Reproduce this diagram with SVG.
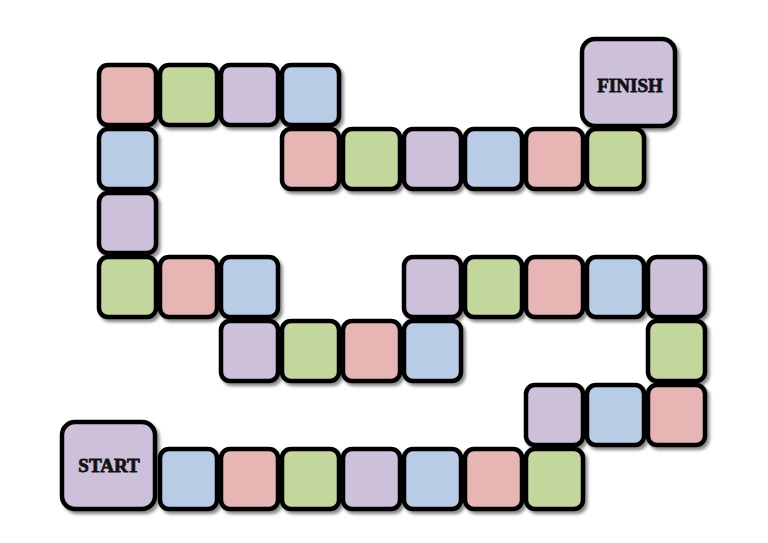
<svg xmlns="http://www.w3.org/2000/svg" width="768" height="543" viewBox="0 0 768 543">
<defs>
<filter id="sh" x="-20%" y="-20%" width="140%" height="140%">
<feDropShadow dx="2.5" dy="3" stdDeviation="1.5" flood-color="#000" flood-opacity="0.45"/>
</filter>
</defs>
<style>
rect{stroke:#000;stroke-width:4.5;filter:url(#sh)}
.p{fill:#E6B5B4}
.g{fill:#C3D69B}
.v{fill:#CCC0DA}
.b{fill:#B8CDE5}
text{font-family:"Liberation Serif","Times New Roman",serif;font-weight:bold;font-size:19px;fill:#111;stroke:#111;stroke-width:0.8;text-anchor:middle}
</style>
<rect width="768" height="543" fill="#fff" style="stroke:none;filter:none"/>
<g id="finish"><rect x="582" y="39" width="93" height="87" rx="13" class="v"/><text x="630" y="92">FINISH</text></g>
<g id="row0">
<rect id="s01" x="99" y="65" width="57" height="60" rx="9" class="p"/>
<rect id="s02" x="160" y="65" width="57" height="60" rx="9" class="g"/>
<rect id="s03" x="221" y="65" width="57" height="60" rx="9" class="v"/>
<rect id="s04" x="282" y="65" width="57" height="60" rx="9" class="b"/>
</g>
<g id="row1">
<rect id="s05" x="99" y="129" width="57" height="60" rx="9" class="b"/>
<rect id="s06" x="282" y="129" width="57" height="60" rx="9" class="p"/>
<rect id="s07" x="343" y="129" width="57" height="60" rx="9" class="g"/>
<rect id="s08" x="404" y="129" width="57" height="60" rx="9" class="v"/>
<rect id="s09" x="465" y="129" width="57" height="60" rx="9" class="b"/>
<rect id="s10" x="526" y="129" width="57" height="60" rx="9" class="p"/>
<rect id="s11" x="587" y="129" width="57" height="60" rx="9" class="g"/>
</g>
<g id="row2">
<rect id="s12" x="99" y="193" width="57" height="60" rx="9" class="v"/>
</g>
<g id="row3">
<rect id="s13" x="99" y="257" width="57" height="60" rx="9" class="g"/>
<rect id="s14" x="160" y="257" width="57" height="60" rx="9" class="p"/>
<rect id="s15" x="221" y="257" width="57" height="60" rx="9" class="b"/>
<rect id="s16" x="404" y="257" width="57" height="60" rx="9" class="v"/>
<rect id="s17" x="465" y="257" width="57" height="60" rx="9" class="g"/>
<rect id="s18" x="526" y="257" width="57" height="60" rx="9" class="p"/>
<rect id="s19" x="587" y="257" width="57" height="60" rx="9" class="b"/>
<rect id="s20" x="648" y="257" width="57" height="60" rx="9" class="v"/>
</g>
<g id="row4">
<rect id="s21" x="221" y="321" width="57" height="60" rx="9" class="v"/>
<rect id="s22" x="282" y="321" width="57" height="60" rx="9" class="g"/>
<rect id="s23" x="343" y="321" width="57" height="60" rx="9" class="p"/>
<rect id="s24" x="404" y="321" width="57" height="60" rx="9" class="b"/>
<rect id="s25" x="648" y="321" width="57" height="60" rx="9" class="g"/>
</g>
<g id="row5">
<rect id="s26" x="526" y="385" width="57" height="60" rx="9" class="v"/>
<rect id="s27" x="587" y="385" width="57" height="60" rx="9" class="b"/>
<rect id="s28" x="648" y="385" width="57" height="60" rx="9" class="p"/>
</g>
<g id="row6">
<rect id="s29" x="160" y="449" width="57" height="60" rx="9" class="b"/>
<rect id="s30" x="221" y="449" width="57" height="60" rx="9" class="p"/>
<rect id="s31" x="282" y="449" width="57" height="60" rx="9" class="g"/>
<rect id="s32" x="343" y="449" width="57" height="60" rx="9" class="v"/>
<rect id="s33" x="404" y="449" width="57" height="60" rx="9" class="b"/>
<rect id="s34" x="465" y="449" width="57" height="60" rx="9" class="p"/>
<rect id="s35" x="526" y="449" width="57" height="60" rx="9" class="g"/>
</g>
<g id="start"><rect x="62" y="422" width="93" height="87" rx="13" class="v"/><text x="109" y="472">START</text></g>
</svg>
